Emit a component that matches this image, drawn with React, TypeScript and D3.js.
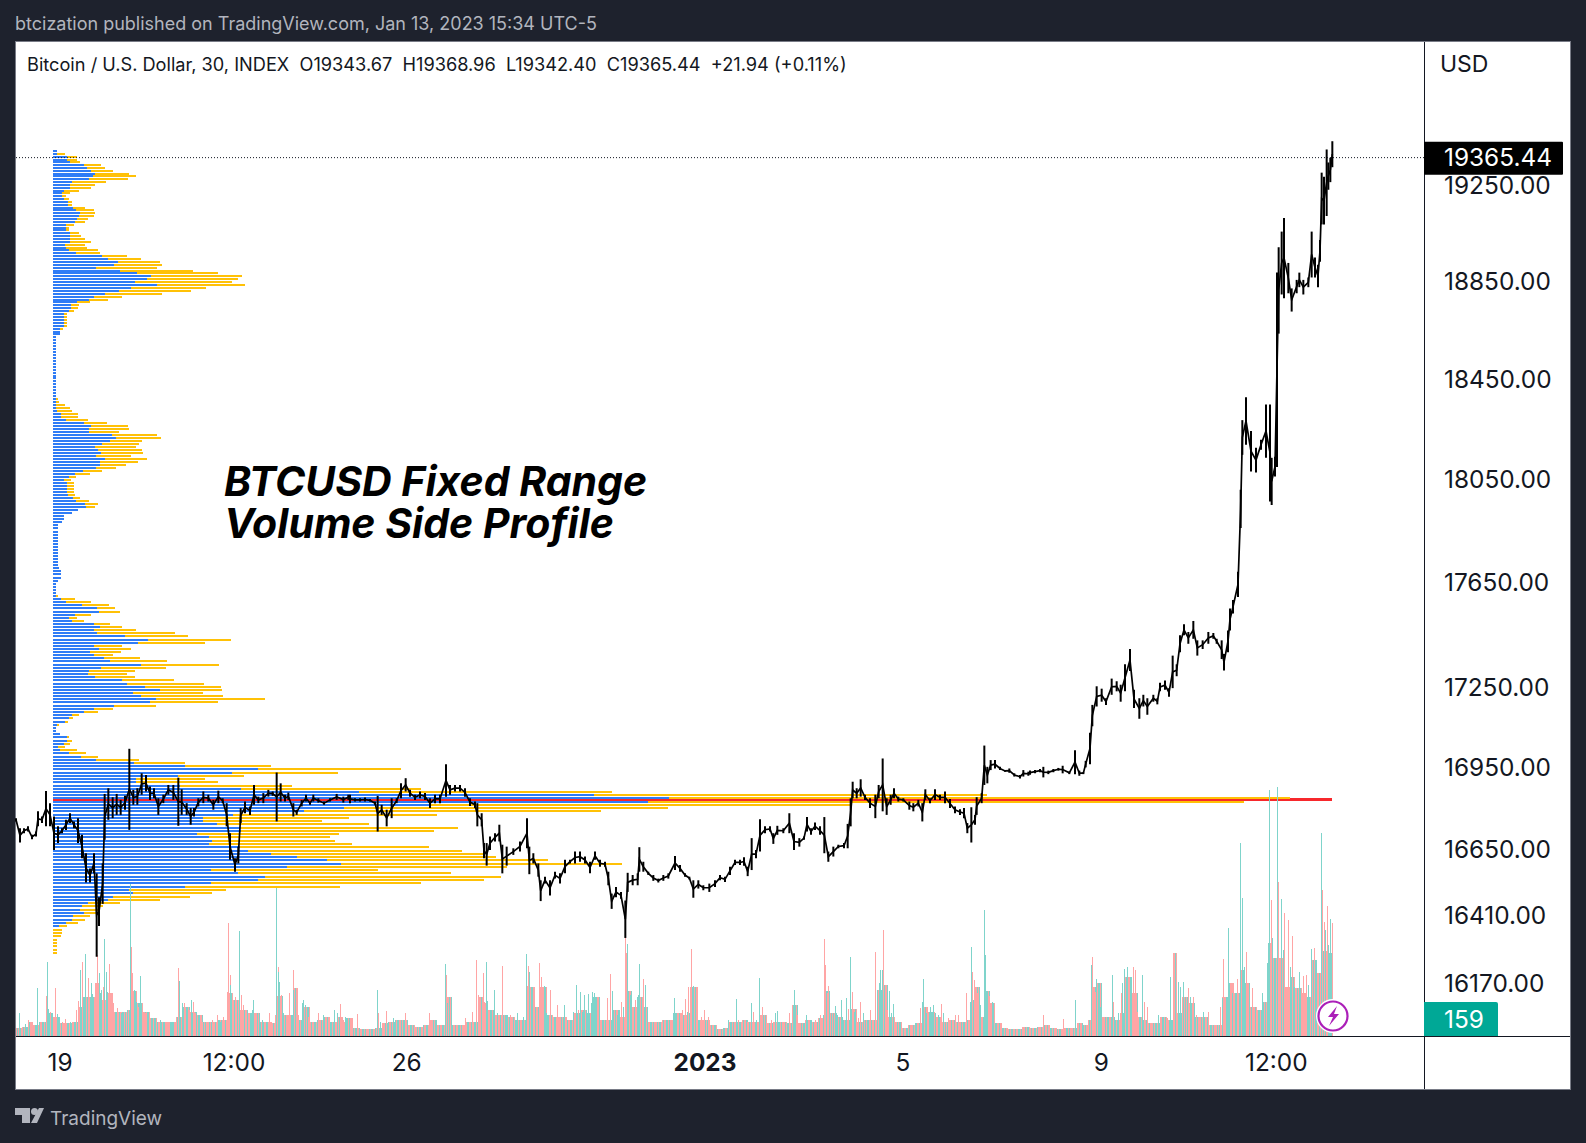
import React from "react";
import * as d3 from "d3";

// time runs in slots of roughly ten minutes from the first bar on the chart
const W = 1586;
const H = 1143;
const PANE = { left: 16, right: 1424, top: 42, bottom: 1036, end: 1570, foot: 1089 };
const LAST_SLOT = 3951;

const priceTicks = [19250, 18850, 18450, 18050, 17650, 17250, 16950, 16650, 16410, 16170];
const lastPrice = 19365.44;
const pocPrice = 16832;
const lastVolume = "159";

const timeTickSlots = [132, 654, 1172, 2067, 2661, 3256, 3781];
const timeTickLabels = ["19", "12:00", "26", "2023", "5", "9", "12:00"];

// [slot, high, low]
const barsLateDecember = [
  [0,16763,16751],[12,16726,16674],[24,16726,16708],[36,16733,16714],[48,16702,16686],[60,16714,16696],[66,16788,16733],[78,16769,16745],
  [90,16863,16733],[102,16818,16733],[114,16769,16647],[126,16733,16672],[138,16726,16708],[150,16757,16720],[162,16781,16745],[174,16751,16726],
  [186,16763,16672],[198,16702,16617],[210,16635,16529],[222,16580,16529],[234,16635,16562],[242,16562,16263],[249,16476,16373],[260,16598,16452],
  [266,16852,16684],[277,16873,16757],[290,16840,16763],[302,16852,16775],[314,16830,16775],[327,16845,16794],[340,17019,16720],[352,16867,16812],
  [364,16873,16812],[377,16928,16849],[390,16922,16861],[402,16879,16830],[414,16873,16836],[427,16836,16775],[442,16849,16818],[457,16885,16849],
  [472,16885,16830],[487,16912,16735],[497,16869,16775],[512,16818,16775],[524,16800,16739],[534,16800,16769],[547,16836,16806],[562,16861,16818],
  [577,16849,16824],[592,16830,16794],[607,16864,16818],[620,16836,16818],[632,16818,16733],[642,16708,16611],[657,16617,16568],[667,16659,16598],
  [674,16800,16745],[687,16824,16781],[702,16806,16775],[714,16885,16812],[727,16842,16818],[742,16855,16818],[757,16867,16842],[770,16861,16845],
  [782,16931,16751],[794,16891,16824],[807,16849,16824],[817,16857,16830],[832,16818,16769],[842,16794,16775],[857,16830,16806],[870,16849,16824],
  [882,16824,16812],[892,16849,16824],[907,16836,16820],[924,16824,16812],[942,16836,16824],[962,16852,16830],[982,16842,16820],[997,16849,16830],
];
const barsYearEnd = [
  [1002,16849,16818],[1017,16836,16824],[1032,16836,16824],[1047,16839,16824],[1062,16833,16824],[1077,16824,16812],[1085,16845,16714],[1097,16812,16775],
  [1112,16794,16733],[1127,16836,16763],[1142,16836,16818],[1155,16891,16836],[1169,16910,16861],[1182,16867,16842],[1197,16849,16830],[1212,16861,16836],
  [1227,16855,16830],[1242,16836,16800],[1257,16849,16818],[1272,16849,16818],[1290,16962,16842],[1302,16885,16849],[1317,16885,16861],[1332,16885,16861],
  [1347,16873,16842],[1362,16836,16808],[1377,16824,16800],[1384,16818,16733],[1397,16781,16733],[1404,16672,16617],[1412,16672,16590],[1422,16696,16647],
  [1437,16708,16678],[1450,16739,16678],[1459,16666,16562],[1472,16659,16590],[1492,16653,16629],[1512,16678,16641],[1533,16763,16653],[1540,16659,16559],
  [1552,16635,16598],[1567,16598,16550],[1574,16537,16462],[1587,16550,16525],[1602,16537,16482],[1617,16568,16543],[1632,16562,16525],[1647,16611,16562],
  [1662,16611,16598],[1677,16641,16598],[1692,16641,16604],[1707,16623,16598],[1722,16604,16562],[1737,16641,16611],[1752,16611,16586],[1767,16604,16586],
  [1777,16568,16519],[1787,16489,16434],[1800,16513,16476],[1815,16495,16470],[1828,16464,16330],[1835,16564,16495],[1850,16556,16519],[1865,16562,16519],
  [1870,16657,16568],[1882,16604,16568],[1897,16568,16556],[1912,16556,16535],[1927,16543,16529],[1942,16556,16535],[1957,16562,16543],[1977,16625,16574],
  [1992,16592,16568],[2007,16562,16550],[2020,16550,16540],
];
const barsEarlyJanuary = [
  [2032,16537,16474],[2047,16537,16507],[2062,16519,16501],[2080,16525,16495],[2097,16537,16513],[2112,16556,16537],[2127,16550,16531],[2142,16586,16556],
  [2157,16611,16592],[2172,16611,16592],[2184,16620,16590],[2195,16586,16552],[2207,16690,16574],[2220,16647,16617],[2232,16759,16641],[2247,16733,16708],
  [2262,16733,16714],[2272,16708,16669],[2284,16735,16702],[2302,16726,16708],[2320,16781,16708],[2334,16708,16647],[2350,16690,16659],[2364,16696,16684],
  [2373,16767,16714],[2385,16726,16702],[2397,16747,16720],[2412,16733,16702],[2425,16767,16635],[2437,16641,16604],[2452,16659,16623],[2467,16666,16653],
  [2484,16672,16653],[2495,16742,16653],[2504,16836,16733],[2510,16897,16836],[2522,16873,16836],[2534,16906,16842],[2547,16849,16830],[2562,16836,16800],
  [2578,16849,16763],[2588,16885,16836],[2600,16983,16788],[2612,16836,16775],[2624,16849,16812],[2634,16873,16836],[2647,16842,16824],[2662,16836,16824],
  [2680,16824,16794],[2692,16818,16788],[2707,16830,16806],[2719,16818,16751],[2728,16869,16830],[2742,16836,16818],[2757,16869,16830],[2772,16849,16830],
  [2787,16861,16818],[2802,16833,16800],[2817,16806,16781],[2832,16796,16775],[2844,16800,16763],[2854,16745,16708],[2866,16803,16674],[2877,16775,16739],
  [2882,16840,16775],[2897,16855,16818],[2905,17031,16885],[2914,16952,16891],[2924,16977,16940],[2937,16977,16946],[2952,16952,16940],[2967,16940,16934],
  [2980,16946,16930],[2995,16928,16916],[3012,16922,16909],[3022,16940,16916],[3037,16934,16919],
];
const barsRally = [
  [3042,16938,16923],[3057,16940,16928],[3072,16944,16932],[3082,16952,16913],[3097,16938,16925],[3112,16944,16932],[3127,16948,16938],[3140,16956,16928],
  [3160,16935,16925],[3177,17014,16925],[3190,16938,16919],[3202,16932,16925],[3209,16974,16950],[3222,17079,16962],[3229,17183,17103],[3242,17253,17177],
  [3257,17244,17195],[3270,17208,17183],[3287,17282,17221],[3302,17272,17234],[3314,17259,17195],[3327,17336,17234],[3342,17394,17311],[3354,17240,17171],
  [3370,17208,17131],[3382,17221,17177],[3394,17208,17146],[3412,17221,17195],[3424,17208,17185],[3432,17266,17234],[3447,17275,17240],[3459,17246,17214],
  [3470,17369,17246],[3482,17336,17291],[3492,17446,17382],[3504,17488,17446],[3517,17459,17414],[3532,17501,17433],[3544,17427,17369],[3560,17427,17394],
  [3577,17459,17414],[3592,17455,17433],[3602,17433,17414],[3617,17427,17356],[3624,17375,17313],[3636,17465,17382],[3642,17549,17465],[3651,17581,17530],
  [3666,17690,17593],[3674,18010,17860],[3679,18286,18148],[3690,18378,18188],[3705,18243,18082],[3720,18176,18078],[3735,18208,18168],[3750,18349,18136],
  [3762,18349,17964],[3767,18136,17950],[3777,18140,18062],[3783,18885,18100],[3788,18990,18635],[3797,19055,18795],[3804,19112,18780],[3817,18925,18800],
  [3827,18820,18725],[3842,18855,18800],[3850,18885,18825],[3862,18855,18795],[3877,18865,18825],[3887,19055,18865],[3897,18947,18865],[3906,18917,18825],
  [3912,19020,18930],[3917,19302,19085],[3924,19285,19085],[3932,19400,19120],[3937,19345,19230],[3943,19365,19262],[3949,19435,19325],
];

// [slot, volume] the dense mass of small bars
const volumeMass = [
  [0,8],[18,9],[36,14],[52,11],[72,14],[92,23],[112,19],[132,13],[152,13],[167,14],[187,29],[202,39],[222,39],[237,53],[252,36],[272,43],[292,24],[312,24],[332,26],[347,45],[362,33],[382,24],[402,18],[422,14],[442,14],[462,14],[482,19],[502,29],[522,24],[542,21],[562,14],[582,14],[602,16],[622,16],[637,43],[652,36],[672,26],[697,23],[712,23],[732,14],[752,14],[767,13],[782,40],[802,21],[817,21],[832,48],[847,16],[862,29],[882,14],[902,16],[922,19],[942,14],[962,19],[982,14],
  [987,18],[1012,8],[1032,7],[1057,7],[1077,8],[1097,13],[1117,14],[1137,16],[1157,16],[1177,11],[1197,9],[1222,11],[1242,16],[1262,11],[1287,39],[1307,11],[1327,11],[1347,14],[1367,14],[1387,39],[1402,33],[1417,26],[1437,21],[1457,21],[1477,19],[1497,16],[1517,16],[1537,49],[1557,29],[1572,49],[1592,21],[1612,19],[1632,19],[1652,16],[1672,23],[1692,26],[1712,23],[1732,39],[1752,16],[1772,16],[1792,26],[1812,19],[1830,45],[1847,29],[1862,39],[1882,29],[1897,14],[1917,14],[1937,16],[1957,16],[1977,23],[1997,21],[2017,23],
  [2022,49],[2032,49],[2047,16],[2064,16],[2082,11],[2102,7],[2122,8],[2140,14],[2160,14],[2177,16],[2197,14],[2217,14],[2232,21],[2252,13],[2272,14],[2292,14],[2312,13],[2327,31],[2347,13],[2367,16],[2387,14],[2407,18],[2427,45],[2442,23],[2462,19],[2482,16],[2502,27],[2522,14],[2542,16],[2562,16],[2582,46],[2597,51],[2617,19],[2637,14],[2657,8],[2677,11],[2697,13],[2717,29],[2737,24],[2757,19],[2777,14],[2797,16],[2817,14],[2837,14],[2852,16],[2867,36],[2877,49],[2892,19],[2907,45],[2922,33],[2937,13],[2957,8],[2977,7],[2997,7],[3017,9],
  [3042,8],[3062,9],[3082,11],[3102,8],[3122,7],[3142,8],[3162,8],[3182,13],[3202,11],[3217,16],[3227,49],[3242,53],[3257,19],[3277,19],[3297,16],[3312,23],[3327,59],[3347,43],[3367,19],[3382,16],[3397,13],[3417,13],[3432,19],[3452,16],[3470,83],[3482,23],[3497,39],[3517,33],[3537,19],[3557,19],[3577,11],[3597,11],[3617,39],[3637,53],[3652,43],[3672,66],[3687,53],[3702,29],[3722,26],[3737,34],[3757,93],[3772,78],[3792,78],[3807,49],[3822,59],[3837,48],[3857,43],[3872,39],[3887,76],[3902,63],[3917,85],[3932,83],[3951,76],
];

// [slot, volume, 1 = up bar, 0 = down bar] the single tall bars
const volumeSpikes = [
  [9,23,1],[64,48,1],[93,74,1],[91,40,0],[118,48,0],[192,66,1],[199,74,0],[208,82,1],[216,58,0],[224,53,1],[242,81,0],[256,46,1],[265,97,1],[278,72,0],[342,152,1],[346,89,0],[354,46,1],[373,60,1],[487,68,0],[490,55,1],[498,33,1],[524,36,1],[532,34,0],[637,113,0],[643,61,0],[641,51,1],[670,105,1],[676,41,0],[682,31,0],[712,36,1],[781,148,1],[787,69,0],[790,54,1],[794,41,0],[832,66,0],[830,46,1],[862,36,1],[973,32,0],
  [972,32,0],[1024,22,0],[1084,46,1],[1111,25,0],[1288,72,1],[1290,61,0],[1381,76,0],[1402,63,0],[1410,74,1],[1435,46,1],[1459,70,0],[1530,82,1],[1537,70,0],[1539,64,1],[1570,73,0],[1576,59,0],[1583,50,1],[1603,46,0],[1644,31,1],[1680,51,1],[1692,44,1],[1705,41,1],[1717,42,1],[1729,44,1],[1782,62,0],[1787,45,1],[1828,99,0],[1834,92,1],[1870,72,1],[1882,57,0],[1887,51,1],[1975,38,1],[2007,28,0],
  [2008,37,0],[2025,87,0],[2032,50,1],[2160,37,1],[2205,33,1],[2230,58,1],[2282,25,1],[2335,46,1],[2425,97,0],[2428,71,0],[2437,50,0],[2456,30,1],[2476,36,1],[2490,38,1],[2503,79,1],[2509,44,0],[2533,34,0],[2578,84,0],[2593,66,1],[2602,106,0],[2609,51,0],[2620,45,1],[2632,32,1],[2722,57,1],[2750,31,1],[2774,32,0],[2850,43,0],[2865,89,1],[2869,64,0],[2873,56,0],[2877,45,0],[2892,31,1],[2905,126,1],[2908,81,1],[2920,40,0],
  [3082,21,0],[3140,17,0],[3177,36,1],[3224,71,1],[3229,79,0],[3239,57,1],[3244,53,0],[3255,34,1],[3287,61,1],[3292,34,0],[3314,43,0],[3325,67,1],[3334,69,1],[3352,69,0],[3357,66,0],[3377,61,1],[3394,29,0],[3472,83,0],[3487,54,1],[3502,54,1],[3515,48,0],[3532,39,0],[3622,77,0],[3637,108,1],[3664,57,0],[3673,193,1],[3679,138,1],[3691,84,0],[3709,48,0],[3737,43,1],[3760,246,1],[3765,136,0],[3769,98,1],[3784,249,1],[3787,154,0],[3796,137,1],[3805,123,0],[3817,116,0],[3827,100,0],[3850,64,1],[3860,60,0],[3870,61,0],[3885,87,1],[3895,88,0],[3916,203,1],[3919,146,0],[3924,114,0],[3927,106,1],[3934,130,0],[3937,91,1],[3943,117,1],[3949,113,0],
];

// smaller bars that stick out of the mass
const volumeShortBars = [
  [27,12,1],[37,16,0],[44,14,0],[52,11,0],[70,14,1],[82,13,1],[97,27,1],[102,24,0],[109,19,1],[124,22,1],[137,14,0],[147,17,0],[162,14,1],[180,26,0],[187,35,0],[227,42,1],[234,33,0],[250,63,1],[252,43,1],[260,49,0],[270,64,1],[274,44,1],[282,26,0],[292,33,0],[304,28,0],[314,23,1],[324,24,0],[334,26,1],[347,63,0],[360,34,1],[366,29,0],[378,31,0],[387,23,0],[396,18,1],[407,18,1],[432,16,1],[452,14,0],[467,14,1],[480,19,0],[504,33,0],[510,24,1],[518,26,0],[527,23,1],[537,23,0],[547,21,1],[559,14,0],[587,16,0],[602,21,0],[612,14,1],[620,19,0],[632,44,0],[657,39,0],[664,26,1],[687,25,0],[700,23,0],[707,26,1],[737,16,1],[760,23,0],[777,21,0],[785,64,1],[802,23,1],[820,43,0],[837,46,1],[847,21,0],[857,33,1],[867,31,1],[877,19,0],[907,23,0],[920,21,1],[932,19,1],[955,26,1],[964,23,1],[980,16,0],
  [987,19,1],[1087,23,0],[1092,14,1],[1132,18,1],[1147,16,1],[1167,23,0],[1240,23,0],[1294,33,1],[1347,18,0],[1367,24,0],[1387,41,0],[1397,26,0],[1405,34,0],[1414,35,1],[1422,23,1],[1442,23,1],[1449,21,0],[1467,21,1],[1482,21,0],[1502,23,1],[1520,19,1],[1534,50,0],[1547,33,1],[1552,31,0],[1562,28,0],[1589,23,1],[1622,31,0],[1637,19,0],[1672,24,1],[1687,26,0],[1697,24,1],[1724,33,1],[1734,43,1],[1747,18,0],[1772,38,0],[1792,26,1],[1802,21,1],[1814,34,0],[1822,29,1],[1831,83,0],[1842,41,1],[1852,24,0],[1857,36,0],[1865,41,1],[1877,28,0],[1972,23,1],[1987,23,0],[1997,26,0],[2012,24,1],
  [2017,49,0],[2037,44,1],[2054,19,0],[2064,26,0],[2077,19,0],[2137,16,1],[2167,16,0],[2192,14,0],[2210,24,0],[2220,16,1],[2237,29,0],[2247,19,1],[2264,16,0],[2277,23,1],[2320,23,0],[2330,31,1],[2342,21,0],[2370,21,1],[2397,16,0],[2412,21,0],[2420,21,1],[2432,43,0],[2444,23,1],[2462,21,1],[2497,27,0],[2514,24,1],[2527,18,0],[2542,23,1],[2562,26,0],[2582,45,1],[2588,53,1],[2598,66,1],[2614,26,0],[2624,23,1],[2712,28,0],[2717,34,1],[2730,23,1],[2742,29,1],[2757,23,1],[2767,21,1],[2782,23,1],[2797,18,0],[2817,21,0],[2827,21,0],[2862,34,1],[2882,43,0],[2910,29,1],[2927,34,1],
  [3237,44,0],[3252,29,1],[3272,19,1],[3307,23,1],[3317,53,1],[3330,59,1],[3347,43,0],[3364,24,0],[3384,34,0],[3427,21,1],[3452,18,0],[3462,59,1],[3492,49,1],[3522,39,1],[3540,21,0],[3560,24,1],[3575,24,0],[3612,29,0],[3617,38,1],[3647,43,1],[3652,53,0],[3684,69,1],[3700,29,1],[3716,29,1],[3742,34,1],[3752,73,1],[3774,78,1],[3802,86,1],[3812,49,0],[3822,69,1],[3834,49,1],[3847,48,0],[3877,51,1],[3890,61,1],[3907,63,0],
];

// side profile, one row per price step from the top of the range to the bottom
const profileTopPrice = 19393;
const profileBottomPrice = 16276;
const profileBuy = [
  12,12,42,42,51,93,102,114,126,120,108,57,51,51,33,27,27,33,45,45,60,69,81,78,72,66,39,39,39,51,51,51,51,36,39,48,69,147,165,195,183,129,201,252,294,282,246,312,234,198,156,123,108,72,54,54,48,33,33,33,33,33,21,21,21,
  9,9,9,9,9,9,9,9,9,9,9,9,9,9,9,9,9,9,9,9,9,9,9,9,9,
  12,24,24,39,93,114,108,108,177,189,171,147,126,135,144,129,156,141,141,129,90,66,48,33,42,42,42,42,45,60,69,96,99,75,57,33,33,27,
  15,15,15,15,15,15,15,15,15,15,15,15,15,15,18,24,24,24,15,9,9,9,9,9,
  24,39,87,132,138,66,48,57,123,141,123,132,216,285,255,123,138,111,123,153,171,264,144,108,105,126,207,222,276,321,240,264,309,291,183,123,93,57,48,
  36,12,9,9,21,42,42,33,15,21,48,84,129,243,396,615,537,375,249,249,381,564,918,1623,1848,1784,1131,873,753,541,450,450,492,564,564,432,468,477,468,561,585,654,732,822,864,702,474,555,636,615,474,396,228,240,180,165,105,87,81,93,60,57,39,18,
  0,0,0,0,0,0,0,0,
];
const profileTotal = [
  12,36,72,72,81,144,156,180,228,249,225,159,126,114,78,51,39,48,57,57,96,123,126,123,105,96,63,48,48,78,84,96,114,96,102,135,141,222,264,321,327,312,420,495,567,555,537,576,459,414,327,207,165,111,78,75,63,42,42,42,42,42,30,21,21,
  9,9,9,9,9,9,9,9,9,9,9,9,9,9,9,9,9,9,9,9,9,15,18,36,51,
  57,75,75,105,162,225,228,198,312,324,267,258,249,267,270,234,282,255,219,189,147,111,69,54,63,63,63,63,66,81,108,135,126,75,57,33,33,27,
  15,15,15,15,15,15,15,15,15,15,15,15,15,15,18,24,24,24,15,9,9,9,9,15,
  66,114,168,186,201,114,72,93,171,207,249,366,405,534,456,207,234,204,180,261,342,498,339,246,222,246,363,453,504,507,450,510,636,495,309,180,135,78,60,
  45,18,9,9,21,48,57,51,36,72,99,135,258,396,654,1044,855,573,456,495,717,1104,1677,2802,3711,3573,2391,1844,1644,1152,888,807,948,1215,1143,858,831,846,897,1128,1227,1291,1329,1485,1707,1362,975,1194,1344,1293,1104,861,519,477,411,321,201,150,141,132,111,96,75,42,
  27,27,24,12,12,12,12,12,
];

const COLORS = {
  page: "#1e222d",
  rule: "#131722",
  edge: "#787b86",
  up: "#7fd4cb",
  down: "#ffa5a5",
  buy: "#2f7cf6",
  sell: "#ffc107",
  poc: "#f7282c",
  tag: "#00a896",
  bolt: "#ab1fb8",
};
const FONT = "Inter, 'Noto Sans', sans-serif";
const STRIPES = [0, 1, 0, 1, 1, 0, 0, 1, 0, 0, 1, 1, 0, 1, 0, 0];

export default function App() {
  const x = d3.scaleLinear().domain([0, LAST_SLOT]).range([PANE.left, 1333]);
  const y = d3.scaleLog().domain([19250, 16170]).range([185, 983]);
  const yVolume = d3.scaleLinear().domain([0, 249]).range([PANE.bottom, 787]);
  const xProfile = d3.scaleLinear().domain([0, 3810]).range([53, 1323]);

  const rowStep = (profileTopPrice - profileBottomPrice) / (profileBuy.length - 1);
  const rows = profileBuy.map((buy, i) => ({
    price: profileTopPrice - i * rowStep,
    buy,
    total: profileTotal[i],
  }));

  const bars = [...barsLateDecember, ...barsYearEnd, ...barsEarlyJanuary, ...barsRally];
  const midLine = d3
    .line<number[]>()
    .x((d) => x(d[0]))
    .y((d) => y((d[1] + d[2]) / 2));
  const massArea = d3
    .area<number[]>()
    .x((d) => Math.round(x(d[0])))
    .y0(PANE.bottom)
    .y1((d) => Math.round(yVolume(d[1])))
    .curve(d3.curveStepAfter);

  return (
    <svg
      width={W}
      height={H}
      viewBox={`0 0 ${W} ${H}`}
      style={{ position: "fixed", left: 0, top: 0, display: "block" }}
      fontFamily={FONT}
    >
      <defs>
        <pattern id="volumeStripes" patternUnits="userSpaceOnUse" width={STRIPES.length} height={4}>
          {STRIPES.map((up, i) => (
            <rect key={i} x={i} width={1} height={4} fill={up ? COLORS.up : COLORS.down} shapeRendering="crispEdges" />
          ))}
        </pattern>
      </defs>

      <rect width={W} height={H} fill={COLORS.page} />
      <text x={15} y={30} fontSize={18} fill="#b2b5be">
        btcization published on TradingView.com, Jan 13, 2023 15:34 UTC-5
      </text>

      {/* panel */}
      <rect x={15.5} y={41.5} width={PANE.end - 15} height={PANE.foot - 41} fill="#fff" stroke={COLORS.edge} strokeWidth={1} />

      {/* point of control, under the rows so it only shows in the gaps past them */}
      <rect x={xProfile(0)} y={Math.round(y(pocPrice)) - 1.5} width={x(LAST_SLOT) - xProfile(0) - 1} height={3} fill={COLORS.poc} shapeRendering="crispEdges" />

      {/* side profile */}
      <g shapeRendering="crispEdges">
        {rows.map((r, i) => (
          <g key={i}>
            <rect x={xProfile(0)} y={Math.round(y(r.price)) - 1} width={xProfile(r.total) - xProfile(0)} height={2} fill={COLORS.sell} />
            <rect x={xProfile(0)} y={Math.round(y(r.price)) - 1} width={xProfile(r.buy) - xProfile(0)} height={2} fill={COLORS.buy} />
          </g>
        ))}
      </g>

      {/* volume */}
      <path d={massArea(volumeMass) ?? ""} fill="url(#volumeStripes)" shapeRendering="crispEdges" />
      <g shapeRendering="crispEdges">
        {[...volumeSpikes, ...volumeShortBars].map((d, i) => (
          <rect key={i} x={Math.round(x(d[0]))} y={yVolume(d[1])} width={1} height={PANE.bottom - yVolume(d[1])} fill={d[2] ? COLORS.up : COLORS.down} />
        ))}
      </g>

      {/* price */}
      <path d={midLine(bars) ?? ""} fill="none" stroke="#000" strokeWidth={1.7} />
      {bars.map((d, i) => (
        <line key={i} x1={x(d[0])} x2={x(d[0])} y1={y(d[1])} y2={y(d[2])} stroke="#000" strokeWidth={2} />
      ))}

      <line x1={PANE.left} x2={PANE.right} y1={y(lastPrice)} y2={y(lastPrice)} stroke="#131722" strokeDasharray="1 2" />

      <text fontSize={41} fontWeight={700} fontStyle="italic" fill="#000">
        <tspan x={224} y={496}>BTCUSD Fixed Range</tspan>
        <tspan x={224} y={538}>Volume Side Profile</tspan>
      </text>

      <text x={27} y={71} fontSize={18.2} fill="#131722" style={{ whiteSpace: "pre" }}>
        {"Bitcoin / U.S. Dollar, 30, INDEX  O19343.67  H19368.96  L19342.40  C19365.44  +21.94 (+0.11%)"}
      </text>

      {/* axes */}
      <line x1={1424.5} x2={1424.5} y1={PANE.top} y2={PANE.foot} stroke={COLORS.rule} />
      <line x1={PANE.left} x2={PANE.end} y1={1036.5} y2={1036.5} stroke={COLORS.rule} />
      <text x={1440} y={72} fontSize={23} fill="#131722">USD</text>
      {priceTicks.map((p) => (
        <text key={p} x={1444} y={y(p)} dy="0.36em" fontSize={24.4} fill="#131722">
          {p.toFixed(2)}
        </text>
      ))}
      {timeTickSlots.map((s, i) => (
        <text
          key={i}
          x={x(s)}
          y={1071}
          textAnchor="middle"
          fontSize={24.4}
          fontWeight={timeTickLabels[i] === "2023" ? 700 : 400}
          fill="#131722"
        >
          {timeTickLabels[i]}
        </text>
      ))}

      <rect x={1424} y={y(lastPrice) - 16} width={139} height={33} fill="#000" rx={1} />
      <text x={1444} y={y(lastPrice)} dy="0.36em" fontSize={24.4} fill="#fff">
        {lastPrice.toFixed(2)}
      </text>

      <path d="M1424,1002H1496a2,2 0 0 1 2,2V1036H1424Z" fill={COLORS.tag} />
      <text x={1444} y={1019} dy="0.36em" fontSize={24.4} fill="#fff">{lastVolume}</text>

      {/* streaming bolt */}
      <circle cx={1333} cy={1016} r={17} fill="#fff" />
      <circle cx={1333} cy={1016} r={14.5} fill="#fff" stroke={COLORS.bolt} strokeWidth={2.2} />
      <path d="M1337,1006L1328,1017H1333L1329,1026L1339,1014H1334Z" fill={COLORS.bolt} />

      {/* footer logo */}
      <g fill="#b2b5be">
        <path d="M15,1108H30V1123H22V1115H15Z" />
        <circle cx={34.5} cy={1111.5} r={3.5} />
        <path d="M39,1108H44L37,1123H31Z" />
      </g>
      <text x={50} y={1125} fontSize={19} fill="#b2b5be">TradingView</text>
    </svg>
  );
}
